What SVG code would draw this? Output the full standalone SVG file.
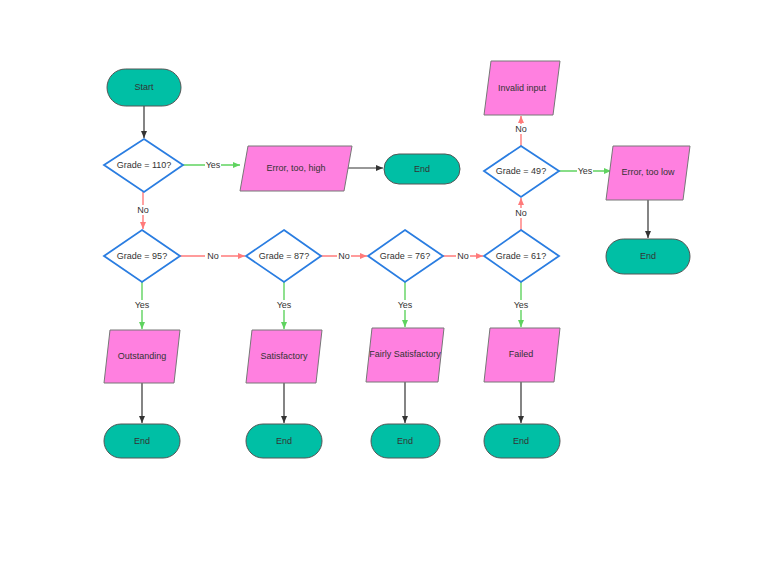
<svg xmlns="http://www.w3.org/2000/svg" width="768" height="576" viewBox="0 0 768 576">
<style>
text{font-family:"Liberation Sans",Arial,sans-serif;font-size:9px;fill:#333;text-anchor:middle;dominant-baseline:central}
.t{fill:#00bfa5;stroke:#555;stroke-width:1}
.p{fill:#ff80e0;stroke:#777;stroke-width:1}
.d{fill:#fff;stroke:#2a7de1;stroke-width:1.8}
.k{stroke:#333;stroke-width:1.2;fill:none;marker-end:url(#ak)}
.g{stroke:#5fd35f;stroke-width:1.4;fill:none;marker-end:url(#ag)}
.r{stroke:#ff7a7a;stroke-width:1.4;fill:none;marker-end:url(#ar)}
.lb{fill:#333}
</style>
<defs>
<marker id="ak" markerWidth="8" markerHeight="8" refX="7" refY="4" orient="auto" markerUnits="userSpaceOnUse"><path d="M0,1 L7,4 L0,7z" fill="#333"/></marker>
<marker id="ag" markerWidth="8" markerHeight="8" refX="7" refY="4" orient="auto" markerUnits="userSpaceOnUse"><path d="M0,1 L7,4 L0,7z" fill="#5fd35f"/></marker>
<marker id="ar" markerWidth="8" markerHeight="8" refX="7" refY="4" orient="auto" markerUnits="userSpaceOnUse"><path d="M0,1 L7,4 L0,7z" fill="#ff7a7a"/></marker>
</defs>
<rect width="768" height="576" fill="#fff"/>
<g id="connectors">
<path class="k" d="M144,106 V138"/>
<path class="g" d="M183,165 H240"/><rect x="205" y="160" width="16" height="10" fill="#fff"/><text x="213" y="165">Yes</text>
<path class="k" d="M347,168 H383"/>
<path class="r" d="M143,192 V229"/><rect x="135" y="205" width="16" height="10" fill="#fff"/><text x="143" y="210">No</text>
<path class="r" d="M180,256 H245"/><rect x="205" y="251" width="16" height="10" fill="#fff"/><text x="213" y="256">No</text>
<path class="r" d="M321,256 H367"/><rect x="337" y="251" width="14" height="10" fill="#fff"/><text x="344" y="256">No</text>
<path class="r" d="M443,256 H483"/><rect x="456" y="251" width="14" height="10" fill="#fff"/><text x="463" y="256">No</text>
<path class="r" d="M521,230 V198"/><rect x="514" y="208" width="14" height="10" fill="#fff"/><text x="521" y="213">No</text>
<path class="r" d="M521,146 V116"/><rect x="514" y="124" width="14" height="10" fill="#fff"/><text x="521" y="129">No</text>
<path class="g" d="M559,171 H611"/><rect x="577" y="166" width="16" height="10" fill="#fff"/><text x="585" y="171">Yes</text>
<path class="k" d="M648,200 V238"/>
<path class="g" d="M142,282 V329"/><rect x="134" y="300" width="16" height="10" fill="#fff"/><text x="142" y="305">Yes</text>
<path class="g" d="M284,282 V329"/><rect x="276" y="300" width="16" height="10" fill="#fff"/><text x="284" y="305">Yes</text>
<path class="g" d="M405,282 V327"/><rect x="397" y="300" width="16" height="10" fill="#fff"/><text x="405" y="305">Yes</text>
<path class="g" d="M521,282 V327"/><rect x="513" y="300" width="16" height="10" fill="#fff"/><text x="521" y="305">Yes</text>
<path class="k" d="M142,383 V423"/>
<path class="k" d="M284,383 V423"/>
<path class="k" d="M405,382 V423"/>
<path class="k" d="M521,382 V423"/>
</g>
<g id="start"><rect class="t" x="107" y="69" width="74" height="37" rx="18.5"/><text x="144" y="87">Start</text></g>
<g id="d110"><path class="d" d="M144,139 L183,165 L144,192 L104,165z"/><text x="144" y="165">Grade = 110?</text></g>
<g id="errhigh"><path class="p" d="M248,146 H352 L344,191 H240z"/><text x="296" y="168">Error, too, high</text></g>
<g id="end1"><rect class="t" x="384" y="154" width="76" height="30" rx="15"/><text x="422" y="169">End</text></g>
<g id="d95"><path class="d" d="M142,230 L180,256 L142,282 L104,256z"/><text x="142" y="256">Grade = 95?</text></g>
<g id="d87"><path class="d" d="M284,230 L321,256 L284,282 L246,256z"/><text x="284" y="256">Grade = 87?</text></g>
<g id="d76"><path class="d" d="M405,230 L443,256 L405,282 L368,256z"/><text x="405" y="256">Grade = 76?</text></g>
<g id="d61"><path class="d" d="M521,230 L559,256 L521,282 L484,256z"/><text x="521" y="256">Grade = 61?</text></g>
<g id="d49"><path class="d" d="M521,146 L559,171 L521,197 L484,171z"/><text x="521" y="171">Grade = 49?</text></g>
<g id="invalid"><path class="p" d="M491,61 H560 L553,115 H484z"/><text x="522" y="88">Invalid input</text></g>
<g id="errlow"><path class="p" d="M613,146 H690 L683,200 H606z"/><text x="648" y="172">Error, too low</text></g>
<g id="end2"><rect class="t" x="606" y="239" width="84" height="35" rx="17.5"/><text x="648" y="256">End</text></g>
<g id="outstanding"><path class="p" d="M110,330 H180 L174,383 H104z"/><text x="142" y="356">Outstanding</text></g>
<g id="satisfactory"><path class="p" d="M252,330 H322 L316,383 H246z"/><text x="284" y="356">Satisfactory</text></g>
<g id="fairly"><path class="p" d="M372,328 H444 L438,382 H366z"/><text x="405" y="354">Fairly Satisfactory</text></g>
<g id="failed"><path class="p" d="M490,328 H560 L554,382 H484z"/><text x="521" y="354">Failed</text></g>
<g id="end3"><rect class="t" x="104" y="424" width="76" height="34" rx="17"/><text x="142" y="441">End</text></g>
<g id="end4"><rect class="t" x="246" y="424" width="76" height="34" rx="17"/><text x="284" y="441">End</text></g>
<g id="end5"><rect class="t" x="371" y="424" width="69" height="34" rx="17"/><text x="405" y="441">End</text></g>
<g id="end6"><rect class="t" x="484" y="424" width="76" height="34" rx="17"/><text x="521" y="441">End</text></g>
</svg>
